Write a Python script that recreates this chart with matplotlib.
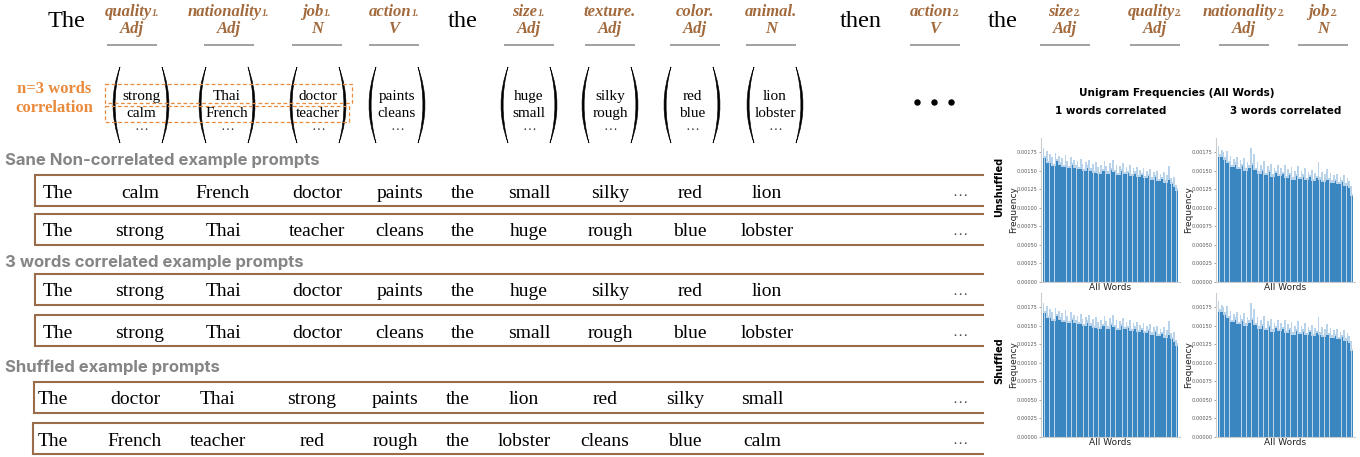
import matplotlib
matplotlib.use('Agg')
import matplotlib.pyplot as plt
from matplotlib.path import Path
from matplotlib.patches import PathPatch, Rectangle
from matplotlib.ticker import FormatStrFormatter
import numpy as np

# ------------------------------------------------------------------ data
fixed_words = ["The", "the", "then", "the"]
slot_names = ["quality", "nationality", "job", "action", "size", "texture.", "color.",
              "animal.", "action", "size", "quality", "nationality", "job"]
slot_subs = ["1.", "1.", "1.", "1.", "1.", "", "", "", "2.", "2.", "2.", "2.", "2."]
slot_pos = ["Adj", "Adj", "N", "V", "Adj", "Adj", "Adj", "N", "V", "Adj", "Adj", "Adj", "N"]

option_words = [["strong", "calm"], ["Thai", "French"], ["doctor", "teacher"],
                ["paints", "cleans"], ["huge", "small"], ["silky", "rough"],
                ["red", "blue"], ["lion", "lobster"]]

corr_label = ["n=3 words", "correlation"]

section_titles = ["Sane Non-correlated example prompts",
                  "3 words correlated example prompts",
                  "Shuffled example prompts"]
prompt_rows = [
    ["The", "calm", "French", "doctor", "paints", "the", "small", "silky", "red", "lion"],
    ["The", "strong", "Thai", "teacher", "cleans", "the", "huge", "rough", "blue", "lobster"],
    ["The", "strong", "Thai", "doctor", "paints", "the", "huge", "silky", "red", "lion"],
    ["The", "strong", "Thai", "doctor", "cleans", "the", "small", "rough", "blue", "lobster"],
    ["The", "doctor", "Thai", "strong", "paints", "the", "lion", "red", "silky", "small"],
    ["The", "French", "teacher", "red", "rough", "the", "lobster", "cleans", "blue", "calm"],
]

hist_title = "Unigram Frequencies (All Words)"
hist_cols = ["1 words correlated", "3 words correlated"]
hist_rows = ["Unshuffled", "Shuffled"]
hist_xlabel = "All Words"
hist_ylabel = "Frequency"
yticks = [0.0, 0.00025, 0.0005, 0.00075, 0.001, 0.00125, 0.0015, 0.00175]

# unigram frequencies (units of 1e-5)
freq_1w = [181, 170, 176, 163, 172, 168, 159, 174, 166, 170,
           161, 167, 158, 171, 163, 156, 168, 160, 165, 157,
           163, 155, 166, 159, 152, 162, 157, 164, 153, 159,
           150, 161, 155, 148, 158, 152, 163, 156, 149, 160,
           154, 165, 151, 158, 147, 156, 152, 160, 148, 155,
           150, 157, 146, 153, 149, 155, 144, 151, 147, 154,
           143, 150, 146, 152, 141, 148, 144, 150, 139, 146,
           142, 148, 137, 144, 156, 140, 135, 142, 131, 126]
freq_3w = [183, 172, 178, 175, 168, 176, 163, 170, 158, 166,
           161, 169, 155, 164, 159, 167, 153, 162, 157, 180,
           160, 172, 154, 161, 149, 158, 152, 163, 147, 156,
           151, 159, 145, 154, 150, 158, 146, 153, 148, 157,
           143, 152, 147, 155, 141, 150, 146, 156, 142, 149,
           145, 153, 140, 148, 144, 151, 139, 147, 143, 161,
           141, 148, 138, 145, 152, 140, 147, 137, 144, 139,
           146, 135, 142, 138, 144, 133, 140, 136, 130, 119]

# ------------------------------------------------------------------ style / layout
W, H = 1360, 457
SERIF = "Liberation Serif"
SANS_HDR = ["Inter", "DejaVu Sans"]
BROWN = "#a26a3c"
BOX = "#9a6c4a"
ORANGE = "#ea8a3c"
GRAY_HDR = "#858585"

fixed_x = [66, 463, 861, 1003]
slot_x = [132, 229, 317, 394, 529, 610, 695, 771, 935, 1065, 1155, 1244, 1323]
option_x = [141, 227, 318, 397, 529, 610, 692, 775]
row_x = [58, 140, 223, 317, 400, 463, 529, 610, 690, 767]
row_shift = [0, 0, 0, 0, -5, -5]
row_top = [175, 214, 274, 315, 382, 423]
row_h = 31
row_left = [35, 35, 35, 35, 34, 33]
row_right = 983
section_y = [160, 262, 367]

fig = plt.figure(figsize=(W / 100, H / 100), dpi=100)
ax = fig.add_axes([0, 0, 1, 1])
ax.set_xlim(0, W)
ax.set_ylim(H, 0)
ax.axis("off")

# --- header template line
for w, x in zip(fixed_words, fixed_x):
    ax.text(x, 27, w, family=SERIF, fontsize=17.5, ha="center", va="baseline", color="black")

for name, sub, pos, x in zip(slot_names, slot_subs, slot_pos, slot_x):
    off = 4 if sub else 0
    t = ax.text(x - off, 16, name, family=SERIF, fontsize=12, style="italic",
                weight="bold", ha="center", va="baseline", color=BROWN)
    if sub:
        ax.annotate(sub, xy=(1.0, 0.22), xycoords=t, family=SERIF, fontsize=7,
                    style="italic", weight="bold", ha="left", va="baseline", color=BROWN)
    ax.text(x, 33, pos, family=SERIF, fontsize=12, style="italic", weight="bold",
            ha="center", va="baseline", color=BROWN)
    ax.plot([x - 25, x + 25], [45, 45], color="#a0a0a0", lw=1.4, solid_capstyle="butt")


def paren(cx, top, bot, side):
    """crescent-shaped bracket; side=-1 left, +1 right"""
    mid = (top + bot) / 2
    tip = cx - side * 6
    verts = [(tip, top), (cx + side * 8, mid), (tip, bot),
             (tip, bot), (cx + side * 3.9, mid), (tip, top), (tip, top)]
    codes = [Path.MOVETO, Path.CURVE3, Path.CURVE3,
             Path.LINETO, Path.CURVE3, Path.CURVE3, Path.CLOSEPOLY]
    ax.add_patch(PathPatch(Path(verts, codes), facecolor="black", edgecolor="black", lw=0.45))


for words, x in zip(option_words, option_x):
    paren(x - 27, 67, 143, -1)
    paren(x + 27, 67, 143, 1)
    ax.text(x, 100, words[0], family=SERIF, fontsize=11, ha="center", va="baseline")
    ax.text(x, 117, words[1], family=SERIF, fontsize=11, ha="center", va="baseline")
    ax.text(x, 130, "\u2026", family=SERIF, fontsize=10, ha="center", va="baseline", color="#333333")

# dots after the option columns
for dx in (917, 934, 951):
    ax.plot(dx, 102, "o", color="black", ms=3.6)

# n=3 correlation label + dashed boxes
ax.text(54, 93, corr_label[0], family=SERIF, fontsize=12, weight="bold", color=ORANGE,
        ha="center", va="baseline")
ax.text(54, 112, corr_label[1], family=SERIF, fontsize=12, weight="bold", color=ORANGE,
        ha="center", va="baseline")
ax.add_patch(Rectangle((105, 84), 247, 19, fill=False, ls=(0, (3, 2)), lw=0.9, ec=ORANGE))
ax.add_patch(Rectangle((105, 106), 244, 16, fill=False, ls=(0, (3, 2)), lw=0.9, ec=ORANGE))

# section titles
for s, y in zip(section_titles, section_y):
    ax.text(5, y, s, family=SANS_HDR, fontsize=12, weight="bold", color=GRAY_HDR,
            ha="left", va="center")

# prompt rows
for i, words in enumerate(prompt_rows):
    top = row_top[i]
    bot = top + row_h
    left = row_left[i]
    ax.plot([row_right, left, left, row_right], [top, top, bot, bot], color=BOX, lw=1.5,
            solid_joinstyle="miter")
    for w, x in zip(words, row_x):
        ax.text(x + row_shift[i], bot - 8.5, w, family=SERIF, fontsize=14, ha="center",
                va="baseline")
    ax.text(960, bot - 10, "\u2026", family=SERIF, fontsize=11, ha="center", va="baseline",
            color="#444444")

# ------------------------------------------------------------------ histograms
panel_x = [(1041, 1180), (1216, 1355)]
panel_y = [(138, 282), (293, 437)]
freqs = [freq_1w, freq_3w]

for r, (y0, y1) in enumerate(panel_y):
    for c, (x0, x1) in enumerate(panel_x):
        hax = fig.add_axes([x0 / W, 1 - y1 / H, (x1 - x0) / W, (y1 - y0) / H])
        v = np.array(freqs[c], dtype=float) * 1e-5
        n = len(v)
        base = np.array([v[max(i - 1, 0):i + 2].min() for i in range(n)]) - 0.00003
        xs = np.arange(n)
        hax.bar(xs, v, width=1.0, color="#b9d4ea", lw=0)
        hax.bar(xs, base, width=0.84, color="#3a86c1", lw=0)
        hax.set_xlim(-1.5, n + 0.5)
        hax.set_ylim(0, 0.00194)
        hax.set_yticks(yticks)
        hax.yaxis.set_major_formatter(FormatStrFormatter("%.5f"))
        hax.set_xticks([])
        hax.tick_params(axis="y", labelsize=3.6, length=1.5, width=0.4, pad=1,
                        colors="#555555")
        for sp in ("top", "right"):
            hax.spines[sp].set_visible(False)
        for sp in ("left", "bottom"):
            hax.spines[sp].set_color("#cccccc")
            hax.spines[sp].set_linewidth(0.8)
        hax.set_xlabel(hist_xlabel, fontsize=6.5, labelpad=1, color="#222222")
        hax.set_ylabel(hist_ylabel, fontsize=6.5, color="#222222")
        hax.yaxis.set_label_coords(-0.165, 0.5)
        if r == 0:
            hax.set_title(hist_cols[c], fontsize=7.5, weight="bold", pad=17)

fig.text(1177 / W, 1 - 93 / H, hist_title, fontsize=7.6, weight="bold", ha="center", va="center")
fig.text(999 / W, 1 - 187 / H, hist_rows[0], fontsize=7, weight="bold", rotation=90,
         ha="center", va="center")
fig.text(999 / W, 1 - 361 / H, hist_rows[1], fontsize=7, weight="bold", rotation=90,
         ha="center", va="center")

fig.savefig("out.png", dpi=100)
